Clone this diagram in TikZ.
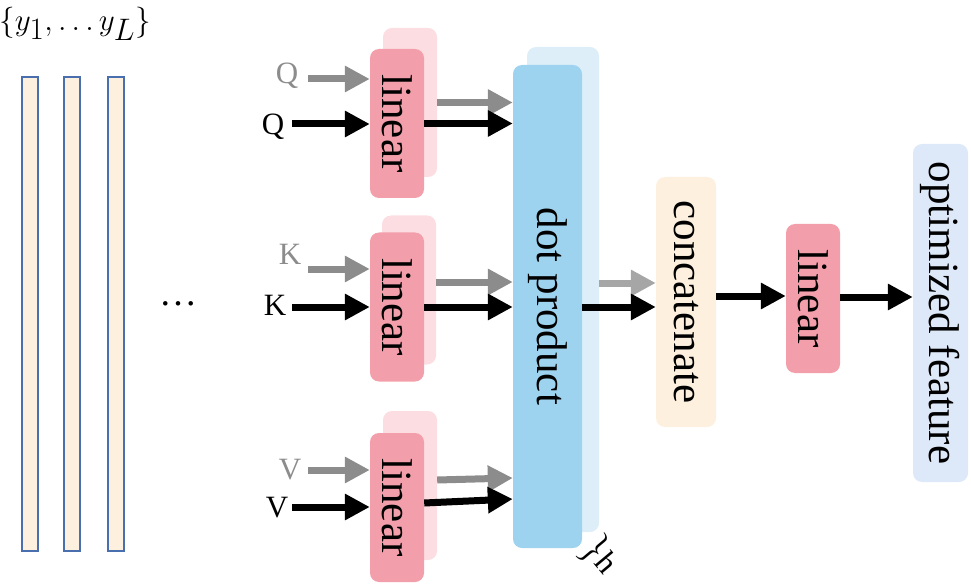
\documentclass[tikz,border=0pt]{standalone}
\usepackage{fontspec}
\setmainfont{Liberation Serif}
\usetikzlibrary{arrows.meta}

\definecolor{barblue}{HTML}{4A6FAE}
\definecolor{barfill}{HTML}{FDF0DE}
\definecolor{linred}{HTML}{F29FAB}
\definecolor{linpink}{HTML}{FCDDE2}
\definecolor{dotblue}{HTML}{9DD3EE}
\definecolor{dotback}{HTML}{DDEEF9}
\definecolor{catfill}{HTML}{FDF0DE}
\definecolor{optfill}{HTML}{DDE8F8}
\definecolor{grayarr}{HTML}{8C8C8C}
\definecolor{lightarr}{HTML}{A6A6A6}

\begin{document}
\begin{tikzpicture}[
    x=1pt, y=-1pt,
    bar/.style={draw=barblue, line width=2pt, fill=barfill, minimum width=16pt, minimum height=474pt, inner sep=0pt},
    blk/.style={rounded corners=9pt, inner sep=0pt, font=\fontsize{43}{52}\selectfont},
    linfront/.style={blk, fill=linred, minimum width=54pt, minimum height=149pt},
    linback/.style={blk, fill=linpink, minimum width=54pt, minimum height=149pt},
    lbl/.style={inner sep=0pt, font=\fontsize{31}{37}\selectfont},
    glbl/.style={lbl, text=grayarr},
    arr/.style={line width=7pt, -{Triangle[length=25pt,width=25pt]}},
    garr/.style={arr, grayarr}
  ]
    \useasboundingbox (0,0) rectangle (971,585);

    % Input sequence
    \node[inner sep=0pt, font=\fontsize{40}{46}\selectfont] (title) at (75,24) {\scalebox{1.25}{$\{y_1,\ldots y_L\}$}};
    \foreach \i/\x in {1/30, 2/72, 3/115.5} {
      \node[bar] (bar\i) at (\x,314) {};
    }
    \node[inner sep=0pt, font=\fontsize{38}{42}\selectfont] (dots) at (178,304) {\ldots};

    % Linear projections (back copies first)
    \node[linback] (lqb) at (410,102.5) {};
    \node[linfront] (lq) at (397,123.5) {\rotatebox{-90}{linear}};
    \node[linback] (lkb) at (409,290) {};
    \node[linfront] (lk) at (397,307) {\rotatebox{-90}{linear}};
    \node[linback] (lvb) at (410,485.5) {};
    \node[linfront] (lv) at (397,507.5) {\rotatebox{-90}{linear}};

    % Dot product (h heads)
    \node[blk, fill=dotback, minimum width=72pt, minimum height=485pt] (dotb) at (563,289.5) {};
    \node[blk, fill=dotblue, minimum width=69pt, minimum height=483pt] (dot) at (547.5,306.5) {\rotatebox{-90}{dot product}};
    \node[inner sep=0pt, rotate=-50, font=\fontsize{32}{38}\selectfont] (heads) at (600,556) {\scalebox{1.5}{$\}$}h};

    % Concatenate, final linear and output
    \node[blk, fill=catfill, minimum width=60pt, minimum height=250pt] (cat) at (686,302) {\rotatebox{-90}{concatenate}};
    \node[linfront] (lo) at (813,298.5) {\rotatebox{-90}{linear}};
    \node[blk, fill=optfill, minimum width=55pt, minimum height=338pt] (opt) at (940.5,313) {\rotatebox{-90}{optimized feature}};

    % Input labels
    \node[glbl] (gq) at (287,76) {Q};
    \node[lbl] (bq) at (273,127) {Q};
    \node[glbl] (gk) at (290,254) {K};
    \node[lbl] (bk) at (275,305) {K};
    \node[glbl] (gv) at (290,470) {V};
    \node[lbl] (bv) at (277,508) {V};

    % Arrows into the linear blocks
    \coordinate (gqs) at (308,79);
    \coordinate (gks) at (308,269);
    \coordinate (gvs) at (308,470);
    \coordinate (bqs) at (292,124);
    \coordinate (bks) at (292,307);
    \coordinate (bvs) at (292,507);
    \draw[garr] (gqs) -- (gqs -| lq.west);
    \draw[garr] (gks) -- (gks -| lk.west);
    \draw[garr] (gvs) -- (gvs -| lv.west);
    \draw[arr] (bqs) -- (bqs -| lq.west);
    \draw[arr] (bks) -- (bks -| lk.west);
    \draw[arr] (bvs) -- (bvs -| lv.west);

    % Arrows into the dot product
    \draw[garr] (lqb.east) -- (lqb.east -| dot.west);
    \draw[arr] (lq.east) -- (lq.east -| dot.west);
    \draw[garr] (lkb.east |- 0,282) -- (dot.west |- 0,282);
    \draw[arr] (lk.east) -- (lk.east -| dot.west);
    \draw[garr] (lvb.east |- 0,480) -- (dot.west |- 0,478);
    \draw[arr] (lv.east |- 0,503) -- (dot.west |- 0,499);

    % Heads to concatenate, then output
    \draw[arr, lightarr] (dotb.east |- 0,283) -- (cat.west |- 0,283);
    \draw[arr] (dot.east |- 0,307) -- (cat.west |- 0,307);
    \draw[arr] (cat.east |- 0,296) -- (lo.west |- 0,296);
    \draw[arr] (lo.east |- 0,297) -- (opt.west |- 0,297);
\end{tikzpicture}
\end{document}
